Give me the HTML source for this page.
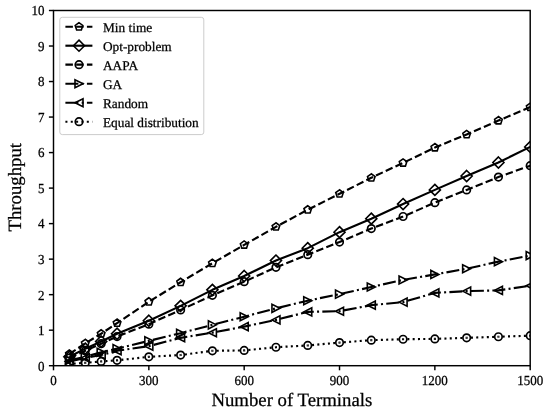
<!DOCTYPE html>
<html lang="en"><head><meta charset="utf-8"><title>Throughput vs Number of Terminals</title>
<style>html,body{margin:0;padding:0;background:#fff}body{width:550px;height:412px;overflow:hidden}svg text{font-family:"Liberation Serif",serif;stroke:#000;stroke-width:0.25px;text-rendering:geometricPrecision}</style></head>
<body>
<svg width="550" height="412" viewBox="0 0 550 412" style="display:block">
<rect width="550" height="412" fill="#fff"/>
<defs><clipPath id="c"><rect x="53.50" y="10.50" width="476.70" height="355.20"/></clipPath></defs>
<g clip-path="url(#c)" fill="none" stroke="#000">
<polyline points="69.39,353.98 85.28,343.32 101.17,333.73 117.06,323.08 148.84,301.76 180.62,282.23 212.40,263.22 244.18,244.93 275.96,226.82 307.74,209.77 339.52,193.78 371.30,177.80 403.08,162.88 434.86,147.61 466.64,134.46 498.42,120.61 530.20,107.11" stroke-width="2.15" stroke-dasharray="7.51 3.25" stroke-linejoin="round"/>
<g stroke-width="1.60" stroke-linejoin="miter">
<polygon points="69.39,349.98 65.59,352.74 67.04,357.21 71.74,357.21 73.19,352.74"/>
<polygon points="85.28,339.32 81.48,342.09 82.93,346.56 87.63,346.56 89.08,342.09"/>
<polygon points="101.17,329.73 97.37,332.50 98.82,336.97 103.52,336.97 104.97,332.50"/>
<polygon points="117.06,319.08 113.26,321.84 114.71,326.31 119.41,326.31 120.86,321.84"/>
<polygon points="148.84,297.76 145.04,300.53 146.49,305.00 151.19,305.00 152.64,300.53"/>
<polygon points="180.62,278.23 176.82,280.99 178.27,285.46 182.97,285.46 184.42,280.99"/>
<polygon points="212.40,259.22 208.60,261.99 210.05,266.46 214.75,266.46 216.20,261.99"/>
<polygon points="244.18,240.93 240.38,243.70 241.83,248.17 246.53,248.17 247.98,243.70"/>
<polygon points="275.96,222.82 272.16,225.58 273.61,230.05 278.31,230.05 279.76,225.58"/>
<polygon points="307.74,205.77 303.94,208.53 305.39,213.00 310.09,213.00 311.54,208.53"/>
<polygon points="339.52,189.78 335.72,192.55 337.17,197.02 341.87,197.02 343.32,192.55"/>
<polygon points="371.30,173.80 367.50,176.56 368.95,181.04 373.65,181.04 375.10,176.56"/>
<polygon points="403.08,158.88 399.28,161.64 400.73,166.12 405.43,166.12 406.88,161.64"/>
<polygon points="434.86,143.61 431.06,146.37 432.51,150.84 437.21,150.84 438.66,146.37"/>
<polygon points="466.64,130.46 462.84,133.23 464.29,137.70 468.99,137.70 470.44,133.23"/>
<polygon points="498.42,116.61 494.62,119.38 496.07,123.85 500.77,123.85 502.22,119.38"/>
<polygon points="530.20,103.11 526.40,105.88 527.85,110.35 532.55,110.35 534.00,105.88"/>
</g>
<polyline points="69.39,356.82 85.28,348.65 101.17,341.55 117.06,333.73 148.84,320.77 180.62,305.85 212.40,289.86 244.18,276.01 275.96,260.56 307.74,248.13 339.52,232.14 371.30,218.65 403.08,204.08 434.86,189.88 466.64,176.02 498.42,162.53 530.20,146.90" stroke-width="2.15" stroke-linejoin="round"/>
<g stroke-width="1.60" stroke-linejoin="miter">
<polygon points="69.39,351.28 74.93,356.82 69.39,362.36 63.85,356.82"/>
<polygon points="85.28,343.11 90.82,348.65 85.28,354.19 79.74,348.65"/>
<polygon points="101.17,336.00 106.71,341.55 101.17,347.09 95.63,341.55"/>
<polygon points="117.06,328.19 122.60,333.73 117.06,339.28 111.52,333.73"/>
<polygon points="148.84,315.22 154.38,320.77 148.84,326.31 143.30,320.77"/>
<polygon points="180.62,300.31 186.16,305.85 180.62,311.39 175.08,305.85"/>
<polygon points="212.40,284.32 217.94,289.86 212.40,295.41 206.86,289.86"/>
<polygon points="244.18,270.47 249.72,276.01 244.18,281.56 238.64,276.01"/>
<polygon points="275.96,255.02 281.50,260.56 275.96,266.10 270.42,260.56"/>
<polygon points="307.74,242.59 313.28,248.13 307.74,253.67 302.20,248.13"/>
<polygon points="339.52,226.60 345.06,232.14 339.52,237.69 333.98,232.14"/>
<polygon points="371.30,213.10 376.84,218.65 371.30,224.19 365.76,218.65"/>
<polygon points="403.08,198.54 408.62,204.08 403.08,209.63 397.54,204.08"/>
<polygon points="434.86,184.33 440.40,189.88 434.86,195.42 429.32,189.88"/>
<polygon points="466.64,170.48 472.18,176.02 466.64,181.57 461.10,176.02"/>
<polygon points="498.42,156.98 503.96,162.53 498.42,168.07 492.88,162.53"/>
<polygon points="530.20,141.35 535.74,146.90 530.20,152.44 524.66,146.90"/>
</g>
<polyline points="69.39,357.89 85.28,350.78 101.17,343.68 117.06,336.57 148.84,324.14 180.62,309.93 212.40,295.37 244.18,281.70 275.96,267.31 307.74,254.70 339.52,242.09 371.30,228.59 403.08,216.52 434.86,202.66 466.64,189.88 498.42,177.09 530.20,165.72" stroke-width="2.15" stroke-dasharray="7.51 3.25" stroke-linejoin="round"/>
<g stroke-width="1.60" stroke-linejoin="miter">
<circle cx="69.39" cy="357.89" r="3.75" stroke-width="1.7"/>
<circle cx="85.28" cy="350.78" r="3.75" stroke-width="1.7"/>
<circle cx="101.17" cy="343.68" r="3.75" stroke-width="1.7"/>
<circle cx="117.06" cy="336.57" r="3.75" stroke-width="1.7"/>
<circle cx="148.84" cy="324.14" r="3.75" stroke-width="1.7"/>
<circle cx="180.62" cy="309.93" r="3.75" stroke-width="1.7"/>
<circle cx="212.40" cy="295.37" r="3.75" stroke-width="1.7"/>
<circle cx="244.18" cy="281.70" r="3.75" stroke-width="1.7"/>
<circle cx="275.96" cy="267.31" r="3.75" stroke-width="1.7"/>
<circle cx="307.74" cy="254.70" r="3.75" stroke-width="1.7"/>
<circle cx="339.52" cy="242.09" r="3.75" stroke-width="1.7"/>
<circle cx="371.30" cy="228.59" r="3.75" stroke-width="1.7"/>
<circle cx="403.08" cy="216.52" r="3.75" stroke-width="1.7"/>
<circle cx="434.86" cy="202.66" r="3.75" stroke-width="1.7"/>
<circle cx="466.64" cy="189.88" r="3.75" stroke-width="1.7"/>
<circle cx="498.42" cy="177.09" r="3.75" stroke-width="1.7"/>
<circle cx="530.20" cy="165.72" r="3.75" stroke-width="1.7"/>
</g>
<polyline points="69.39,360.37 85.28,356.82 101.17,352.20 117.06,348.65 148.84,340.84 180.62,333.20 212.40,324.85 244.18,316.68 275.96,308.34 307.74,300.70 339.52,294.13 371.30,287.02 403.08,279.92 434.86,274.41 466.64,268.73 498.42,261.63 530.20,255.59" stroke-width="2.15" stroke-dasharray="12.99 3.25 2.03 3.25" stroke-linejoin="round"/>
<g stroke-width="1.60" stroke-linejoin="miter">
<polygon points="73.39,360.37 65.39,356.37 65.39,364.37"/>
<polygon points="89.28,356.82 81.28,352.82 81.28,360.82"/>
<polygon points="105.17,352.20 97.17,348.20 97.17,356.20"/>
<polygon points="121.06,348.65 113.06,344.65 113.06,352.65"/>
<polygon points="152.84,340.84 144.84,336.84 144.84,344.84"/>
<polygon points="184.62,333.20 176.62,329.20 176.62,337.20"/>
<polygon points="216.40,324.85 208.40,320.85 208.40,328.85"/>
<polygon points="248.18,316.68 240.18,312.68 240.18,320.68"/>
<polygon points="279.96,308.34 271.96,304.34 271.96,312.34"/>
<polygon points="311.74,300.70 303.74,296.70 303.74,304.70"/>
<polygon points="343.52,294.13 335.52,290.13 335.52,298.13"/>
<polygon points="375.30,287.02 367.30,283.02 367.30,291.02"/>
<polygon points="407.08,279.92 399.08,275.92 399.08,283.92"/>
<polygon points="438.86,274.41 430.86,270.41 430.86,278.41"/>
<polygon points="470.64,268.73 462.64,264.73 462.64,272.73"/>
<polygon points="502.42,261.63 494.42,257.63 494.42,265.63"/>
<polygon points="534.20,255.59 526.20,251.59 526.20,259.59"/>
</g>
<polyline points="69.39,361.44 85.28,357.89 101.17,355.04 117.06,350.78 148.84,346.16 180.62,337.82 212.40,332.67 244.18,326.63 275.96,319.88 307.74,311.89 339.52,311.18 371.30,305.14 403.08,302.12 434.86,292.88 466.64,291.11 498.42,290.40 530.20,285.78" stroke-width="2.15" stroke-dasharray="12.99 3.25 2.03 3.25" stroke-linejoin="round"/>
<g stroke-width="1.60" stroke-linejoin="miter">
<polygon points="65.39,361.44 73.39,357.44 73.39,365.44"/>
<polygon points="81.28,357.89 89.28,353.89 89.28,361.89"/>
<polygon points="97.17,355.04 105.17,351.04 105.17,359.04"/>
<polygon points="113.06,350.78 121.06,346.78 121.06,354.78"/>
<polygon points="144.84,346.16 152.84,342.16 152.84,350.16"/>
<polygon points="176.62,337.82 184.62,333.82 184.62,341.82"/>
<polygon points="208.40,332.67 216.40,328.67 216.40,336.67"/>
<polygon points="240.18,326.63 248.18,322.63 248.18,330.63"/>
<polygon points="271.96,319.88 279.96,315.88 279.96,323.88"/>
<polygon points="303.74,311.89 311.74,307.89 311.74,315.89"/>
<polygon points="335.52,311.18 343.52,307.18 343.52,315.18"/>
<polygon points="367.30,305.14 375.30,301.14 375.30,309.14"/>
<polygon points="399.08,302.12 407.08,298.12 407.08,306.12"/>
<polygon points="430.86,292.88 438.86,288.88 438.86,296.88"/>
<polygon points="462.64,291.11 470.64,287.11 470.64,295.11"/>
<polygon points="494.42,290.40 502.42,286.40 502.42,294.40"/>
<polygon points="526.20,285.78 534.20,281.78 534.20,289.78"/>
</g>
<line x1="69.39" y1="363.92" x2="85.28" y2="362.86" stroke-width="2.15" stroke-dasharray="2.030 3.279" stroke-dashoffset="1.015"/>
<line x1="85.28" y1="362.86" x2="101.17" y2="361.44" stroke-width="2.15" stroke-dasharray="2.030 3.288" stroke-dashoffset="1.015"/>
<line x1="101.17" y1="361.44" x2="117.06" y2="360.37" stroke-width="2.15" stroke-dasharray="2.030 3.279" stroke-dashoffset="1.015"/>
<line x1="117.06" y1="360.37" x2="148.84" y2="356.82" stroke-width="2.15" stroke-dasharray="2.030 3.300" stroke-dashoffset="1.015"/>
<line x1="148.84" y1="356.82" x2="180.62" y2="355.04" stroke-width="2.15" stroke-dasharray="2.030 3.275" stroke-dashoffset="1.015"/>
<line x1="180.62" y1="355.04" x2="212.40" y2="350.78" stroke-width="2.15" stroke-dasharray="2.030 3.314" stroke-dashoffset="1.015"/>
<line x1="212.40" y1="350.78" x2="244.18" y2="350.43" stroke-width="2.15" stroke-dasharray="2.030 3.267" stroke-dashoffset="1.015"/>
<line x1="244.18" y1="350.43" x2="275.96" y2="347.23" stroke-width="2.15" stroke-dasharray="2.030 3.293" stroke-dashoffset="1.015"/>
<line x1="275.96" y1="347.23" x2="307.74" y2="345.45" stroke-width="2.15" stroke-dasharray="2.030 3.275" stroke-dashoffset="1.015"/>
<line x1="307.74" y1="345.45" x2="339.52" y2="342.61" stroke-width="2.15" stroke-dasharray="2.030 3.288" stroke-dashoffset="1.015"/>
<line x1="339.52" y1="342.61" x2="371.30" y2="340.13" stroke-width="2.15" stroke-dasharray="2.030 3.283" stroke-dashoffset="1.015"/>
<line x1="371.30" y1="340.13" x2="403.08" y2="339.24" stroke-width="2.15" stroke-dasharray="2.030 3.269" stroke-dashoffset="1.015"/>
<line x1="403.08" y1="339.24" x2="434.86" y2="338.88" stroke-width="2.15" stroke-dasharray="2.030 3.267" stroke-dashoffset="1.015"/>
<line x1="434.86" y1="338.88" x2="466.64" y2="337.82" stroke-width="2.15" stroke-dasharray="2.030 3.270" stroke-dashoffset="1.015"/>
<line x1="466.64" y1="337.82" x2="498.42" y2="336.75" stroke-width="2.15" stroke-dasharray="2.030 3.270" stroke-dashoffset="1.015"/>
<line x1="498.42" y1="336.75" x2="530.20" y2="335.69" stroke-width="2.15" stroke-dasharray="2.030 3.270" stroke-dashoffset="1.015"/>
<g stroke-width="1.60" stroke-linejoin="miter">
<circle cx="69.39" cy="363.92" r="3.75" stroke-width="1.7"/>
<circle cx="85.28" cy="362.86" r="3.75" stroke-width="1.7"/>
<circle cx="101.17" cy="361.44" r="3.75" stroke-width="1.7"/>
<circle cx="117.06" cy="360.37" r="3.75" stroke-width="1.7"/>
<circle cx="148.84" cy="356.82" r="3.75" stroke-width="1.7"/>
<circle cx="180.62" cy="355.04" r="3.75" stroke-width="1.7"/>
<circle cx="212.40" cy="350.78" r="3.75" stroke-width="1.7"/>
<circle cx="244.18" cy="350.43" r="3.75" stroke-width="1.7"/>
<circle cx="275.96" cy="347.23" r="3.75" stroke-width="1.7"/>
<circle cx="307.74" cy="345.45" r="3.75" stroke-width="1.7"/>
<circle cx="339.52" cy="342.61" r="3.75" stroke-width="1.7"/>
<circle cx="371.30" cy="340.13" r="3.75" stroke-width="1.7"/>
<circle cx="403.08" cy="339.24" r="3.75" stroke-width="1.7"/>
<circle cx="434.86" cy="338.88" r="3.75" stroke-width="1.7"/>
<circle cx="466.64" cy="337.82" r="3.75" stroke-width="1.7"/>
<circle cx="498.42" cy="336.75" r="3.75" stroke-width="1.7"/>
<circle cx="530.20" cy="335.69" r="3.75" stroke-width="1.7"/>
</g>
</g>
<rect x="53.50" y="10.50" width="476.70" height="355.20" fill="none" stroke="#000" stroke-width="1.45"/>
<g stroke="#000" stroke-width="1.45">
<line x1="53.50" y1="365.70" x2="53.50" y2="370.30"/>
<line x1="148.84" y1="365.70" x2="148.84" y2="370.30"/>
<line x1="244.18" y1="365.70" x2="244.18" y2="370.30"/>
<line x1="339.52" y1="365.70" x2="339.52" y2="370.30"/>
<line x1="434.86" y1="365.70" x2="434.86" y2="370.30"/>
<line x1="530.20" y1="365.70" x2="530.20" y2="370.30"/>
<line x1="53.50" y1="365.70" x2="48.90" y2="365.70"/>
<line x1="53.50" y1="330.18" x2="48.90" y2="330.18"/>
<line x1="53.50" y1="294.66" x2="48.90" y2="294.66"/>
<line x1="53.50" y1="259.14" x2="48.90" y2="259.14"/>
<line x1="53.50" y1="223.62" x2="48.90" y2="223.62"/>
<line x1="53.50" y1="188.10" x2="48.90" y2="188.10"/>
<line x1="53.50" y1="152.58" x2="48.90" y2="152.58"/>
<line x1="53.50" y1="117.06" x2="48.90" y2="117.06"/>
<line x1="53.50" y1="81.54" x2="48.90" y2="81.54"/>
<line x1="53.50" y1="46.02" x2="48.90" y2="46.02"/>
<line x1="53.50" y1="10.50" x2="48.90" y2="10.50"/>
</g>
<g font-family="'Liberation Serif', serif" font-size="13.00" fill="#000">
<text transform="translate(53.50,384.80) scale(1,1.060)" text-anchor="middle">0</text>
<text transform="translate(148.84,384.80) scale(1,1.060)" text-anchor="middle">300</text>
<text transform="translate(244.18,384.80) scale(1,1.060)" text-anchor="middle">600</text>
<text transform="translate(339.52,384.80) scale(1,1.060)" text-anchor="middle">900</text>
<text transform="translate(434.86,384.80) scale(1,1.060)" text-anchor="middle">1200</text>
<text transform="translate(530.20,384.80) scale(1,1.060)" text-anchor="middle">1500</text>
<text transform="translate(44.50,370.55) scale(1,1.060)" text-anchor="end">0</text>
<text transform="translate(44.50,335.03) scale(1,1.060)" text-anchor="end">1</text>
<text transform="translate(44.50,299.51) scale(1,1.060)" text-anchor="end">2</text>
<text transform="translate(44.50,263.99) scale(1,1.060)" text-anchor="end">3</text>
<text transform="translate(44.50,228.47) scale(1,1.060)" text-anchor="end">4</text>
<text transform="translate(44.50,192.95) scale(1,1.060)" text-anchor="end">5</text>
<text transform="translate(44.50,157.43) scale(1,1.060)" text-anchor="end">6</text>
<text transform="translate(44.50,121.91) scale(1,1.060)" text-anchor="end">7</text>
<text transform="translate(44.50,86.39) scale(1,1.060)" text-anchor="end">8</text>
<text transform="translate(44.50,50.87) scale(1,1.060)" text-anchor="end">9</text>
<text transform="translate(44.50,15.35) scale(1,1.060)" text-anchor="end">10</text>
</g>
<text x="291.85" y="405.50" text-anchor="middle" font-family="'Liberation Serif', serif" font-size="18.75">Number of Terminals</text>
<text transform="translate(20.60,187.20) rotate(-90)" text-anchor="middle" font-family="'Liberation Serif', serif" font-size="18.75">Throughput</text>
<rect x="59.80" y="17.30" width="144.00" height="117.30" rx="2.5" ry="2.5" fill="#fff" fill-opacity="0.8" stroke="#ccc" stroke-width="1"/>
<g fill="none" stroke="#000">
<line x1="65.40" y1="26.70" x2="92.40" y2="26.70" stroke-width="2.15" stroke-dasharray="7.51 3.25"/>
<g stroke-width="1.60"><polygon points="79.00,22.70 75.20,25.46 76.65,29.94 81.35,29.94 82.80,25.46"/></g>
</g>
<text transform="translate(103.00,32.20) scale(1,1.000)" font-family="'Liberation Serif', serif" font-size="13.30">Min time</text>
<g fill="none" stroke="#000">
<line x1="65.40" y1="45.70" x2="92.40" y2="45.70" stroke-width="2.15"/>
<g stroke-width="1.60"><polygon points="79.00,40.16 84.54,45.70 79.00,51.24 73.46,45.70"/></g>
</g>
<text transform="translate(103.00,51.20) scale(1,1.000)" font-family="'Liberation Serif', serif" font-size="13.30">Opt-problem</text>
<g fill="none" stroke="#000">
<line x1="65.40" y1="64.70" x2="92.40" y2="64.70" stroke-width="2.15" stroke-dasharray="7.51 3.25"/>
<g stroke-width="1.60"><circle cx="79.00" cy="64.70" r="3.75" stroke-width="1.7"/></g>
</g>
<text transform="translate(103.00,70.20) scale(1,1.000)" font-family="'Liberation Serif', serif" font-size="13.30">AAPA</text>
<g fill="none" stroke="#000">
<line x1="65.40" y1="83.70" x2="92.40" y2="83.70" stroke-width="2.15" stroke-dasharray="12.99 3.25 2.03 3.25"/>
<g stroke-width="1.60"><polygon points="83.00,83.70 75.00,79.70 75.00,87.70"/></g>
</g>
<text transform="translate(103.00,89.20) scale(1,1.000)" font-family="'Liberation Serif', serif" font-size="13.30">GA</text>
<g fill="none" stroke="#000">
<line x1="65.40" y1="102.70" x2="92.40" y2="102.70" stroke-width="2.15" stroke-dasharray="12.99 3.25 2.03 3.25"/>
<g stroke-width="1.60"><polygon points="75.00,102.70 83.00,98.70 83.00,106.70"/></g>
</g>
<text transform="translate(103.00,108.20) scale(1,1.000)" font-family="'Liberation Serif', serif" font-size="13.30">Random</text>
<g fill="none" stroke="#000">
<line x1="65.40" y1="121.70" x2="92.40" y2="121.70" stroke-width="2.15" stroke-dasharray="2.03 3.32"/>
<g stroke-width="1.60"><circle cx="79.00" cy="121.70" r="3.75" stroke-width="1.7"/></g>
</g>
<text transform="translate(103.00,127.20) scale(1,1.000)" font-family="'Liberation Serif', serif" font-size="13.30">Equal distribution</text>
</svg>
</body></html>
